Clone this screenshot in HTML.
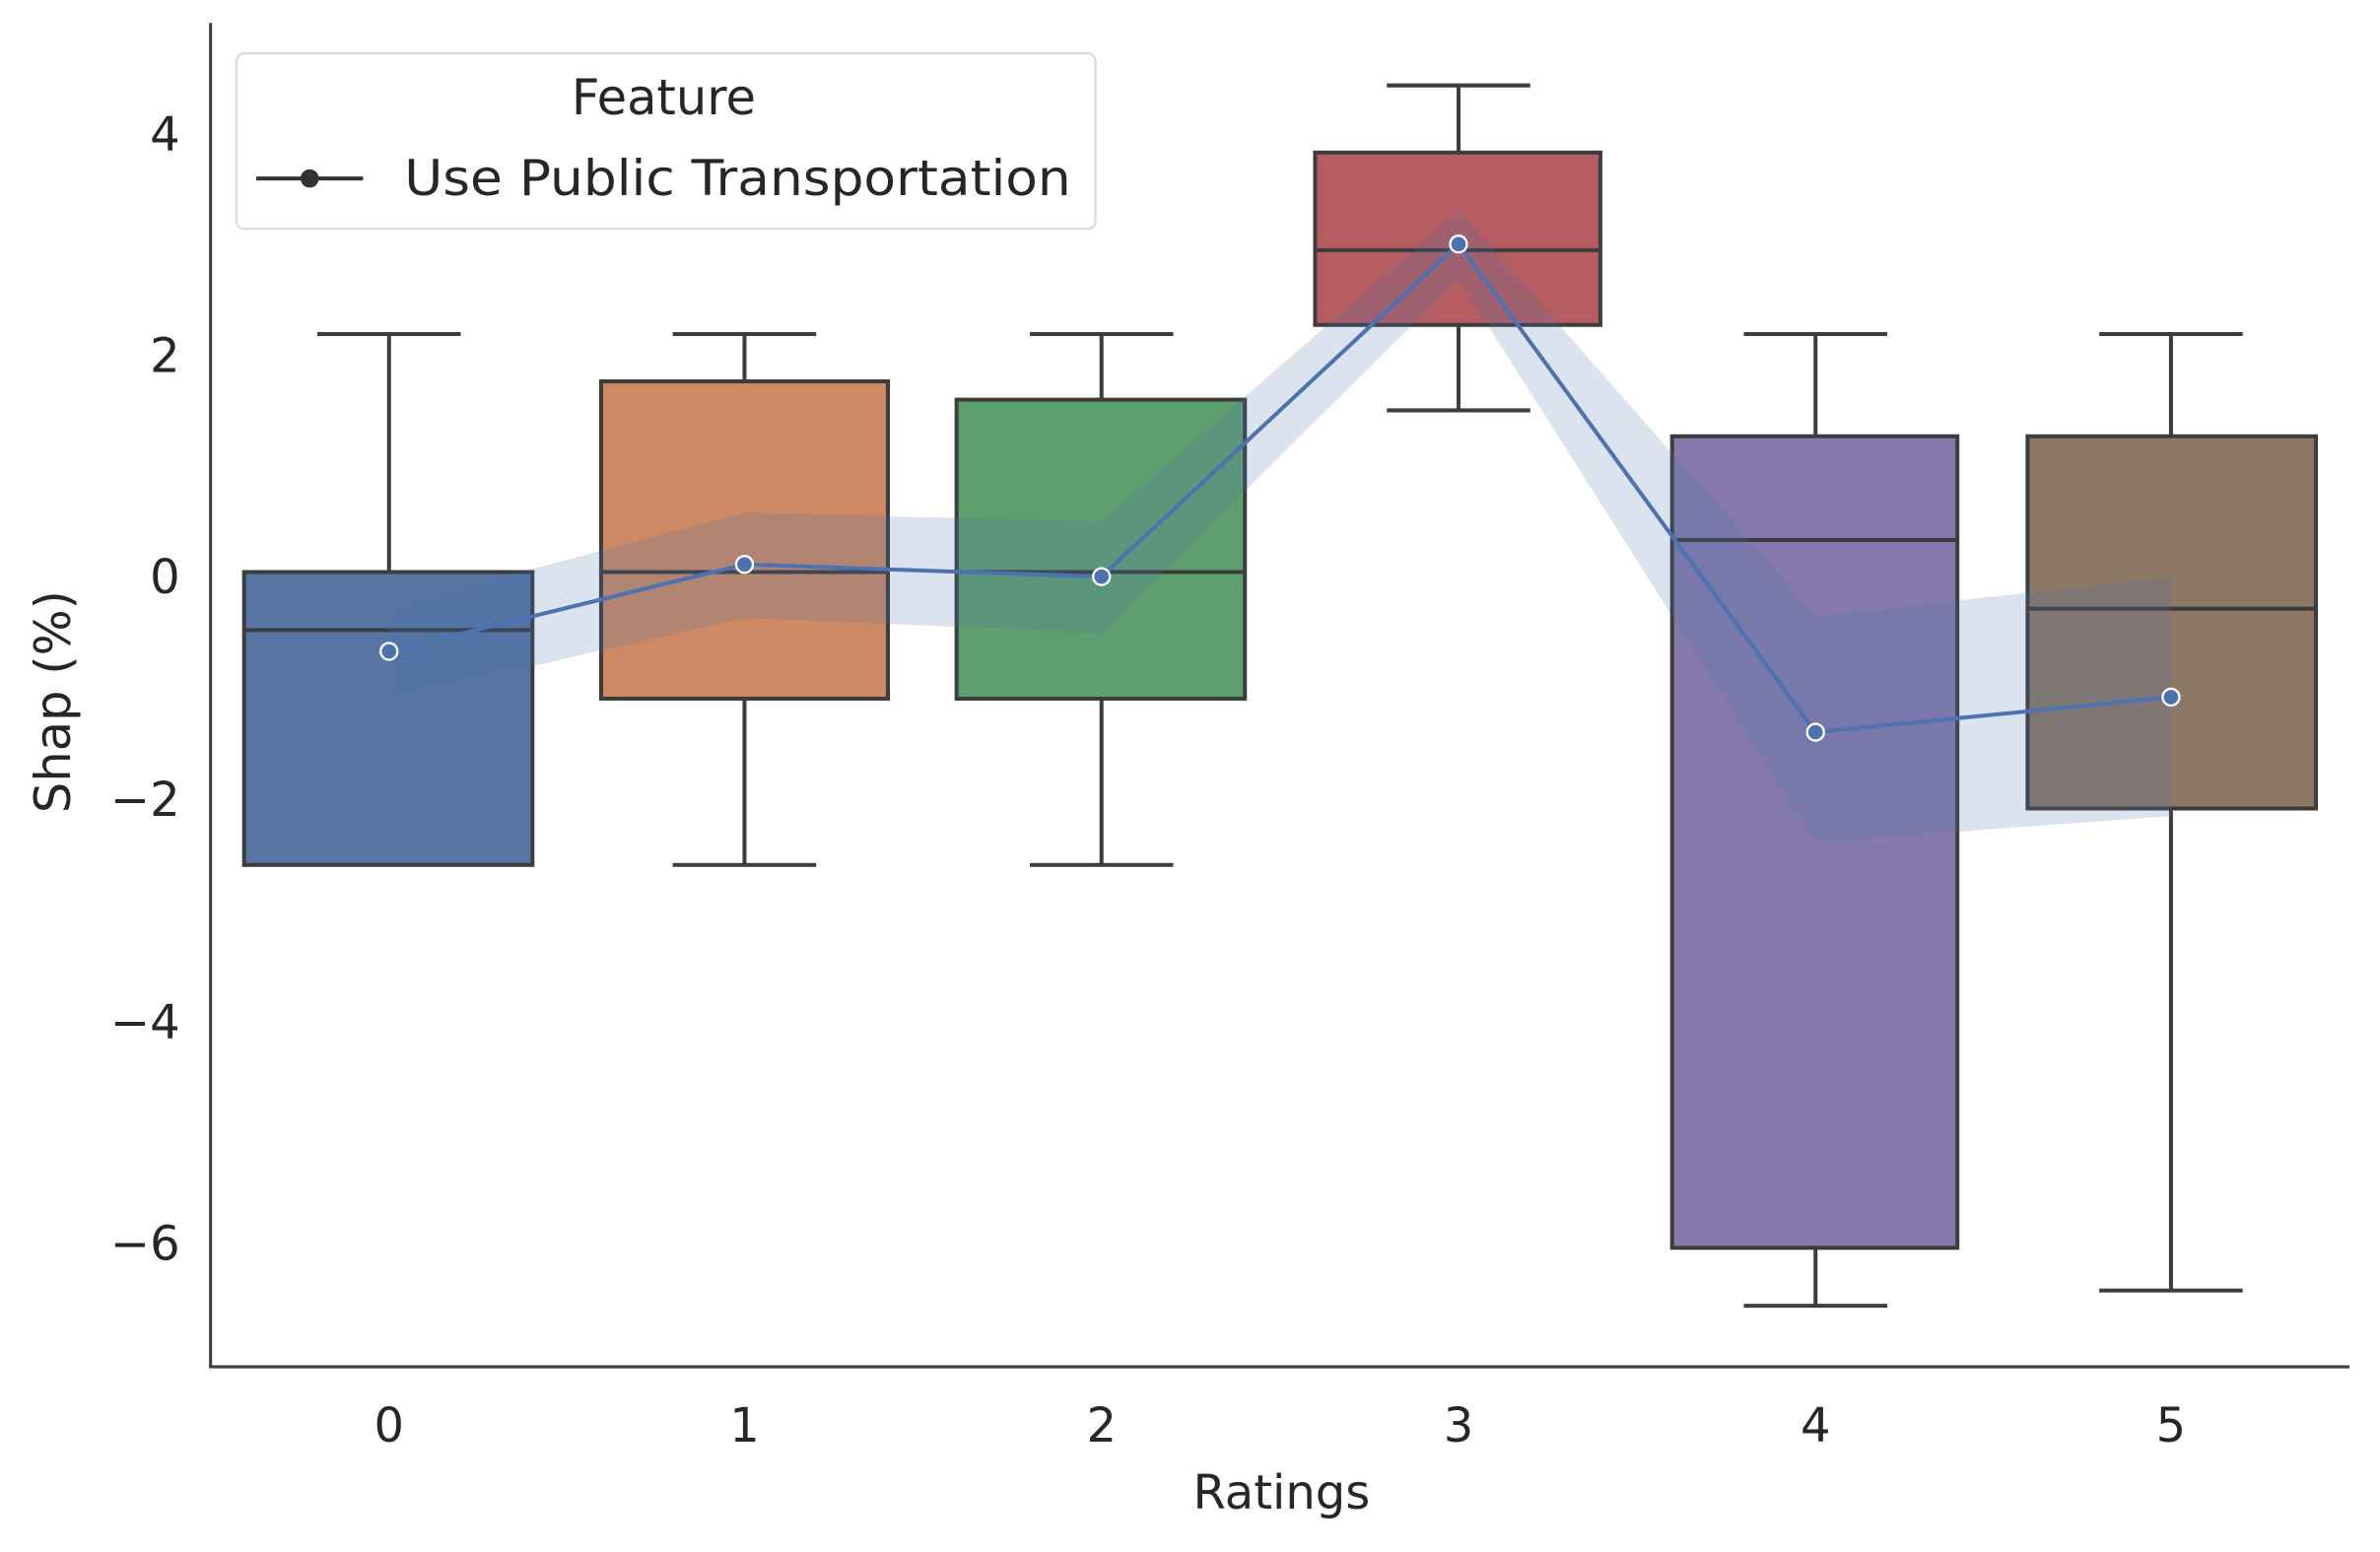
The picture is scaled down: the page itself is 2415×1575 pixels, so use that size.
<!DOCTYPE html>
<html><head><meta charset="utf-8"><style>
html,body{margin:0;padding:0;background:#fff;}
svg{display:block;}
text{font-family:"DejaVu Sans","Liberation Sans",sans-serif;fill:#262626;}
</style></head><body>
<svg width="2415" height="1575" viewBox="0 0 1560 1017.4" preserveAspectRatio="none" xmlns="http://www.w3.org/2000/svg">
<rect width="1560" height="1018" fill="#fff"/>
<g stroke="#3d3d3d" stroke-width="2.6" fill="none">
<!-- box 0 -->
<line x1="255" y1="219" x2="255" y2="375"/><line x1="208" y1="219" x2="302" y2="219"/>
<rect x="160" y="375" width="189" height="192" fill="#5875a4"/>
<line x1="160" y1="413" x2="349" y2="413"/>
<!-- box 1 -->
<line x1="488" y1="219" x2="488" y2="250"/><line x1="488" y1="458" x2="488" y2="567"/>
<line x1="441" y1="219" x2="535" y2="219"/><line x1="441" y1="567" x2="535" y2="567"/>
<rect x="394" y="250" width="188" height="208" fill="#cc8963"/>
<line x1="394" y1="375" x2="582" y2="375"/>
<!-- box 2 -->
<line x1="722" y1="219" x2="722" y2="262"/><line x1="722" y1="458" x2="722" y2="567"/>
<line x1="675" y1="219" x2="769" y2="219"/><line x1="675" y1="567" x2="769" y2="567"/>
<rect x="627" y="262" width="189" height="196" fill="#5f9e6e"/>
<line x1="627" y1="375" x2="816" y2="375"/>
<!-- box 3 -->
<line x1="956" y1="56" x2="956" y2="100"/><line x1="956" y1="213" x2="956" y2="269"/>
<line x1="909" y1="56" x2="1003" y2="56"/><line x1="909" y1="269" x2="1003" y2="269"/>
<rect x="862" y="100" width="187" height="113" fill="#b55d60"/>
<line x1="862" y1="164" x2="1049" y2="164"/>
<!-- box 4 -->
<line x1="1190" y1="219" x2="1190" y2="286"/><line x1="1190" y1="818" x2="1190" y2="856"/>
<line x1="1143" y1="219" x2="1237" y2="219"/><line x1="1143" y1="856" x2="1237" y2="856"/>
<rect x="1096" y="286" width="187" height="532" fill="#857aab"/>
<line x1="1096" y1="354" x2="1283" y2="354"/>
<!-- box 5 -->
<line x1="1423" y1="219" x2="1423" y2="286"/><line x1="1423" y1="530" x2="1423" y2="846"/>
<line x1="1376" y1="219" x2="1470" y2="219"/><line x1="1376" y1="846" x2="1470" y2="846"/>
<rect x="1329" y="286" width="189" height="244" fill="#8d7866"/>
<line x1="1329" y1="399" x2="1518" y2="399"/>
</g>
<!-- CI band -->
<polygon fill="#4c72b0" fill-opacity="0.2" points="255,398 488,336 722,342 956,138 1190,404 1423,378 1423,535 1190,552 956,183 722,415 488,405 255,458"/>
<polyline fill="none" stroke="#4c72b0" stroke-width="2.6" points="255,427 488,370 722,378 956,160 1190,480 1423,457"/>
<g fill="#4c72b0" stroke="#fff" stroke-width="1.5">
<circle cx="255" cy="427" r="5.5"/><circle cx="488" cy="370" r="5.5"/><circle cx="722" cy="378" r="5.5"/>
<circle cx="956" cy="160" r="5.5"/><circle cx="1190" cy="480" r="5.5"/><circle cx="1423" cy="457" r="5.5"/>
</g>
<!-- axes -->
<line x1="138" y1="15" x2="138" y2="896" stroke="#3d3d3d" stroke-width="2"/>
<line x1="137" y1="896" x2="1540" y2="896" stroke="#3d3d3d" stroke-width="2"/>
<g font-size="31" text-anchor="end">
<text x="118" y="99">4</text><text x="118" y="244">2</text><text x="118" y="389">0</text>
<text x="118" y="535">−2</text><text x="118" y="681">−4</text><text x="118" y="826">−6</text>
</g>
<g font-size="31" text-anchor="middle">
<text x="255" y="945">0</text><text x="488" y="945">1</text><text x="722" y="945">2</text>
<text x="956" y="945">3</text><text x="1190" y="945">4</text><text x="1423" y="945">5</text>
<text x="840" y="989">Ratings</text>
</g>
<text font-size="32" text-anchor="middle" transform="translate(46,460) rotate(-90)">Shap (%)</text>
<!-- legend -->
<rect x="155" y="35" width="563" height="115" rx="5" fill="#fff" fill-opacity="0.85" stroke="#dcdcdc" stroke-width="1.5"/>
<text x="435" y="75" font-size="32" text-anchor="middle">Feature</text>
<line x1="168" y1="117" x2="238" y2="117" stroke="#333" stroke-width="2.6"/>
<circle cx="203" cy="117" r="6" fill="#333"/>
<text x="265" y="128" font-size="32" textLength="437" lengthAdjust="spacingAndGlyphs">Use Public Transportation</text>
</svg>
</body></html>
